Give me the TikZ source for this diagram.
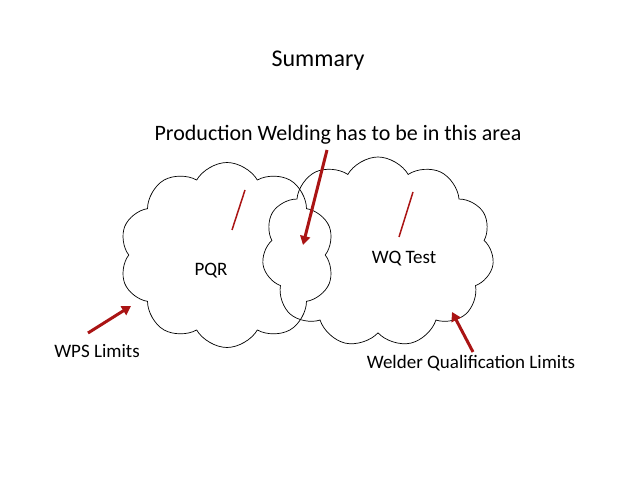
\documentclass[tikz,border=0pt]{standalone}
\usepackage{fontspec}
\setmainfont{Carlito}
\usetikzlibrary{shapes.symbols,arrows.meta}
\definecolor{dred}{RGB}{170,20,20}
\begin{document}
\begin{tikzpicture}[x=1pt,y=1pt,
  cl/.style={cloud,draw,cloud puffs=10,cloud puff arc=120,aspect=1.15,inner sep=0pt,line width=0.7pt},
  arr/.style={draw=dred,line width=3pt,-{Triangle[length=9pt,width=10pt]}},
  tick/.style={draw=dred,line width=1.5pt},
  lbl/.style={font=\fontsize{19}{22}\selectfont}]
\useasboundingbox (0,0) rectangle (638,493);
\node[cl,minimum width=215pt,minimum height=185pt] (pqr) at (227,238) {};
\node[cl,minimum width=232pt,minimum height=190pt,cloud puffs=11] (wq) at (378,241) {};
\node[font=\fontsize{24}{28}\selectfont] (sum) at (318,432) {Summary};
\node[font=\fontsize{22}{26}\selectfont] (prod) at (338,358) {Production Welding has to be in this area};
\node[lbl] (pqrt) at (211,222) {PQR};
\node[lbl] (wqt) at (404,234) {WQ Test};
\node[lbl] (wps) at (97,142) {WPS Limits};
\node[lbl] (wel) at (471,130) {Welder Qualification Limits};
\coordinate (p1) at (327,343); \coordinate (p2) at (303,248);
\draw[arr] (p1) -- (p2);
\coordinate (w1) at (88,160); \coordinate (w2) at (131,187);
\draw[arr] (w1) -- (w2);
\coordinate (q1) at (473,141); \coordinate (q2) at (452,181);
\draw[arr] (q1) -- (q2);
\coordinate (t1) at (245,303); \coordinate (t2) at (232,263);
\draw[tick] (t1) -- (t2);
\coordinate (t3) at (413,301); \coordinate (t4) at (399,256);
\draw[tick] (t3) -- (t4);
\end{tikzpicture}
\end{document}
